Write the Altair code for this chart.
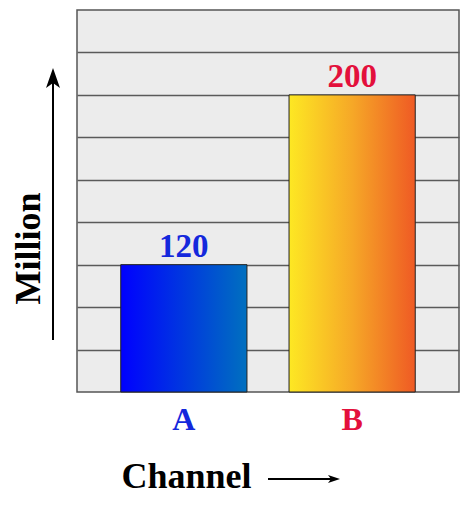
import altair as alt
import pandas as pd

channels = ["A", "B"]
values = [120, 200]
labels = ["120", "200"]

df = pd.DataFrame({"channel": channels, "value": values, "label": labels})

FONT = "Liberation Serif"
BLUE = "#1428dc"
RED = "#e3103c"

base = alt.Chart(df)

xenc = alt.X("channel:N", title="Channel",
             scale=alt.Scale(paddingInner=0.25, paddingOuter=0.26),
             axis=alt.Axis(labelAngle=0, domain=False, ticks=False, grid=False,
                           labelFont=FONT, labelFontWeight="bold", labelFontSize=32,
                           labelPadding=12,
                           labelColor=alt.expr(f"datum.value == 'A' ? '{BLUE}' : '{RED}'"),
                           titleFont=FONT, titleFontWeight="bold", titleFontSize=36,
                           titleColor="black", titleX=109, titleY=95,
                           titleAlign="center", titleBaseline="alphabetic"))
yenc = alt.Y("value:Q", title="Million",
             scale=alt.Scale(domain=[60, 240], zero=False, nice=False),
             axis=alt.Axis(values=[80, 100, 120, 140, 160, 180, 200, 220],
                           labels=False, ticks=False, domain=False,
                           gridColor="#5a5a5a", gridWidth=1.5, gridOpacity=1,
                           titleFont=FONT, titleFontWeight="bold", titleFontSize=36,
                           titleColor="black", titleAngle=270, titleX=-49, titleY=238,
                           titleAlign="center", titleBaseline="middle"))

grad_a = {"gradient": "linear", "x1": 0, "x2": 1, "y1": 0, "y2": 0,
          "stops": [{"offset": 0, "color": "#0000ff"}, {"offset": 1, "color": "#0070bf"}]}
grad_b = {"gradient": "linear", "x1": 0, "x2": 1, "y1": 0, "y2": 0,
          "stops": [{"offset": 0, "color": "#fde823"},
                    {"offset": 0.5, "color": "#f6a827"},
                    {"offset": 1, "color": "#ef5a24"}]}

bar_a = base.transform_filter(alt.datum.channel == "A").mark_bar(
    color=grad_a, stroke="#222222", strokeWidth=1).encode(x=xenc, y=yenc, y2=alt.datum(60))
bar_b = base.transform_filter(alt.datum.channel == "B").mark_bar(
    color=grad_b, stroke="#222222", strokeWidth=1).encode(x=xenc, y=yenc, y2=alt.datum(60))

text = base.mark_text(font=FONT, fontWeight="bold", fontSize=33, dy=-8,
                      baseline="alphabetic").encode(
    x="channel:N", y="value:Q", text="label:N",
    color=alt.Color("channel:N", scale=alt.Scale(domain=channels, range=[BLUE, RED]),
                    legend=None))

one = alt.Data(values=[{"k": 1}])
vline = alt.Chart(one).mark_rule(color="black", strokeWidth=2).encode(
    x=alt.value(-24), y=alt.value(330), y2=alt.value(66))
vhead = alt.Chart(one).mark_point(
    shape="M0,-1 L0.7,1 L0,0.5 L-0.7,1 Z", filled=True, color="black", opacity=1,
    size=400).encode(x=alt.value(-24), y=alt.value(68))
hline = alt.Chart(one).mark_rule(color="black", strokeWidth=2).encode(
    x=alt.value(191), x2=alt.value(258), y=alt.value(469))
hhead = alt.Chart(one).mark_point(
    shape="M1,0 L-1,0.67 L-0.5,0 L-1,-0.67 Z", filled=True, color="black", opacity=1,
    size=144).encode(x=alt.value(257), y=alt.value(469))

chart = alt.layer(bar_a, bar_b, text, vline, vhead, hline, hhead).properties(
    width=382, height=382,
    autosize=alt.AutoSizeParams(type="none"),
    padding={"left": 69, "top": 2, "right": 7, "bottom": 110},
).configure_view(fill="#ececec", stroke="#555555", strokeWidth=1.5)

chart.save("out.html", embed_options={"renderer": "svg", "actions": False})
